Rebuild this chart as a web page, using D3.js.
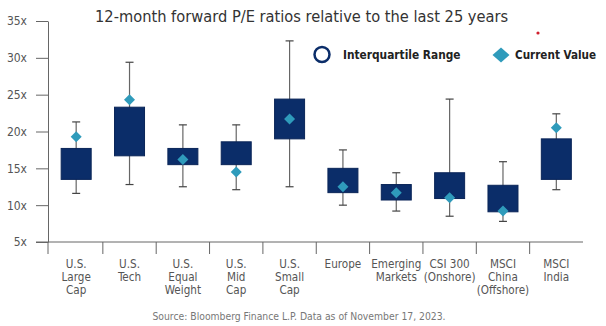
<!DOCTYPE html>
<html>
<head>
<meta charset="utf-8">
<script src="https://cdn.jsdelivr.net/npm/d3@7"></script>
<style>
  body { margin: 0; background: #fff; }
  svg text { font-family: "Liberation Sans Narrow", "DejaVu Sans Condensed", "Liberation Sans", sans-serif; }
</style>
</head>
<body>
<svg width="606" height="326"></svg>
<script>
// Data
const categories = [
  ['U.S.', 'Large', 'Cap'],
  ['U.S.', 'Tech'],
  ['U.S.', 'Equal', 'Weight'],
  ['U.S.', 'Mid', 'Cap'],
  ['U.S.', 'Small', 'Cap'],
  ['Europe'],
  ['Emerging', 'Markets'],
  ['CSI 300', '(Onshore)'],
  ['MSCI', 'China', '(Offshore)'],
  ['MSCI', 'India']
];
const whiskerLow  = [11.6, 12.8, 12.5, 12.1, 12.5, 10.0, 9.2, 8.5, 7.8, 12.1];
const quartile1   = [13.5, 16.7, 15.5, 15.5, 19.0, 11.7, 10.7, 10.9, 9.1, 13.5];
const quartile3   = [17.7, 23.3, 17.7, 18.6, 24.4, 15.0, 12.8, 14.4, 12.7, 19.0];
const whiskerHigh = [21.3, 29.4, 20.9, 20.9, 32.3, 17.5, 14.4, 24.4, 15.9, 22.4];
const currentVal  = [19.3, 24.3, 16.2, 14.5, 21.7, 12.5, 11.7, 11.0, 9.2, 20.5];
const yTicks = [5, 10, 15, 20, 25, 30, 35];

const navy = '#0b2d69';
const teal = '#2f9bbb';
const axisGray = '#666';

const svg = d3.select('svg');
const keys = categories.map((c, i) => i);
const data = keys.map(i => ({
  i, label: categories[i], lo: whiskerLow[i], q1: quartile1[i],
  q3: quartile3[i], hi: whiskerHigh[i], cur: currentVal[i]
}));

const x = d3.scaleBand().domain(keys).range([49.5, 583]);
const y = d3.scaleLinear().domain([5, 35]).range([242, 21]);
const boxW = 30;
const capW = 8;

// Title
svg.append('text')
  .attr('x', 95).attr('y', 22)
  .attr('font-size', 16.3)
  .attr('font-weight', 300)
  .attr('fill', '#333')
  .text('12-month forward P/E ratios relative to the last 25 years');

// Red dot
svg.append('circle').attr('cx', 538).attr('cy', 33).attr('r', 1.6).attr('fill', '#d0202e');

// Legend
const legend = svg.append('g');
legend.append('circle')
  .attr('cx', 322).attr('cy', 54.5).attr('r', 7.5)
  .attr('fill', 'none').attr('stroke', navy).attr('stroke-width', 2.5);
legend.append('text')
  .attr('x', 343).attr('y', 59)
  .attr('font-size', 11.8).attr('font-weight', 'bold').attr('fill', '#222')
  .text('Interquartile Range');
legend.append('path')
  .attr('d', 'M0,-7.5L8.5,0L0,7.5L-8.5,0Z')
  .attr('transform', 'translate(501,55)')
  .attr('fill', teal);
legend.append('text')
  .attr('x', 515).attr('y', 59)
  .attr('font-size', 11.6).attr('font-weight', 'bold').attr('fill', '#222')
  .text('Current Value');

// Y axis
const yAxis = svg.append('g')
  .attr('transform', 'translate(48,0)')
  .call(d3.axisLeft(y).tickValues(yTicks).tickFormat(d => d + 'x').tickSize(12).tickSizeOuter(0));
yAxis.select('.domain').attr('stroke', axisGray);
yAxis.selectAll('.tick line').attr('stroke', axisGray);
yAxis.selectAll('.tick text')
  .attr('x', -21)
  .attr('font-size', 12).attr('fill', '#555')
  .style('font-family', '"Liberation Sans Narrow", "DejaVu Sans Condensed", sans-serif');

// X axis
const xAxis = svg.append('g');
xAxis.append('line')
  .attr('x1', 36).attr('x2', x.range()[1])
  .attr('y1', y(5)).attr('y2', y(5))
  .attr('stroke', axisGray);
xAxis.selectAll('.xtick')
  .data(keys).enter()
  .append('line')
  .attr('class', 'xtick')
  .attr('x1', d => d === 0 ? 48 : x(d)).attr('x2', d => d === 0 ? 48 : x(d))
  .attr('y1', y(5)).attr('y2', y(5) + 12)
  .attr('stroke', axisGray);
xAxis.selectAll('.xlabel')
  .data(data).enter()
  .append('text')
  .attr('class', 'xlabel')
  .attr('text-anchor', 'middle')
  .attr('font-size', 11.6).attr('fill', '#555')
  .each(function (d) {
    d3.select(this).selectAll('tspan')
      .data(d.label).enter()
      .append('tspan')
      .attr('x', x(d.i) + x.bandwidth() / 2)
      .attr('y', (t, j) => 268 + j * 12.8)
      .text(t => t);
  });

// Boxes
const boxes = svg.append('g').selectAll('.box')
  .data(data).enter()
  .append('g')
  .attr('class', 'box')
  .attr('transform', d => `translate(${x(d.i) + x.bandwidth() / 2},0)`);

boxes.append('line')
  .attr('y1', d => y(d.lo)).attr('y2', d => y(d.hi))
  .attr('stroke', '#666').attr('stroke-width', 1.2);
boxes.append('line')
  .attr('x1', -capW / 2).attr('x2', capW / 2)
  .attr('y1', d => y(d.hi)).attr('y2', d => y(d.hi))
  .attr('stroke', '#444').attr('stroke-width', 1.2);
boxes.append('line')
  .attr('x1', -capW / 2).attr('x2', capW / 2)
  .attr('y1', d => y(d.lo)).attr('y2', d => y(d.lo))
  .attr('stroke', '#444').attr('stroke-width', 1.2);
boxes.append('rect')
  .attr('x', -boxW / 2).attr('width', boxW)
  .attr('y', d => y(d.q3))
  .attr('height', d => y(d.q1) - y(d.q3))
  .attr('fill', navy)
  .attr('stroke', '#0a2558').attr('stroke-width', 1);
boxes.append('path')
  .attr('d', 'M0,-5.5L5.5,0L0,5.5L-5.5,0Z')
  .attr('transform', d => `translate(0,${y(d.cur)})`)
  .attr('fill', teal);

// Source
svg.append('text')
  .attr('x', 299).attr('y', 320)
  .attr('text-anchor', 'middle')
  .attr('font-size', 10.3).attr('fill', '#777')
  .text('Source: Bloomberg Finance L.P. Data as of November 17, 2023.');
</script>
</body>
</html>
